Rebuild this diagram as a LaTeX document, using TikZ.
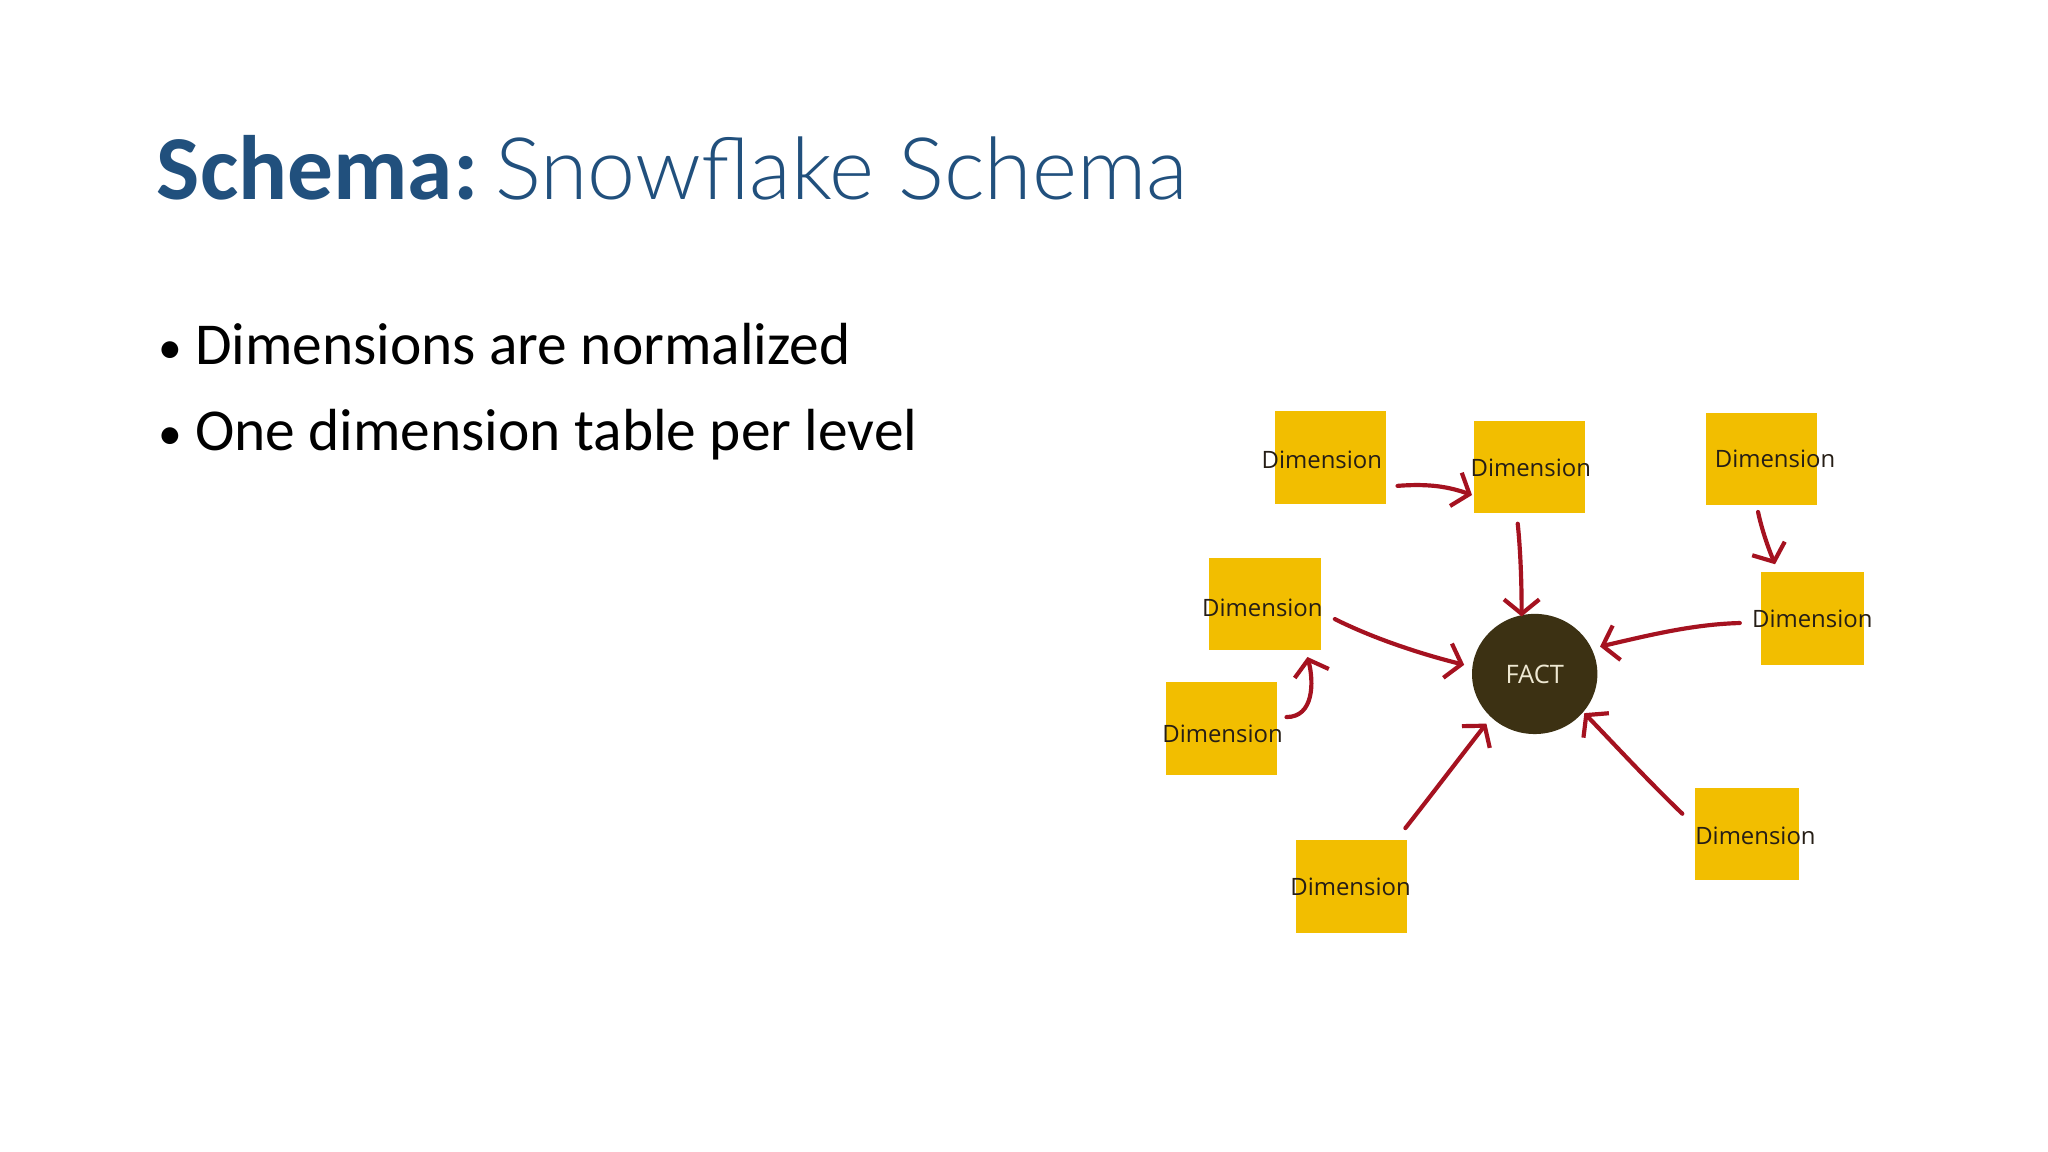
\documentclass[tikz,border=0pt]{standalone}
\usepackage{fontspec}
\setmainfont{Carlito}
\newfontfamily\boxfont{Open Sans}
\newfontfamily\lightfont{Lato-Light}
\usetikzlibrary{arrows.meta,shapes.geometric}
\definecolor{titleblue}{RGB}{33,80,125}
\definecolor{dimyellow}{RGB}{242,190,0}
\definecolor{arrred}{RGB}{165,18,32}
\definecolor{factfill}{RGB}{60,49,19}
\definecolor{facttext}{RGB}{238,232,210}
\definecolor{dimtext}{RGB}{38,30,22}
\tikzset{
  dimbox/.style={rectangle, fill=dimyellow, draw=none, minimum width=85pt, minimum height=71pt, inner sep=0pt},
  dimtxt/.style={font=\boxfont\fontsize{18.3}{21}\selectfont, text=dimtext, inner sep=0pt},
  arr/.style={draw=arrred, line width=3.2pt, line cap=round, line join=round,
     -{Straight Barb[length=11pt,width=27pt,line width=3.2pt]}},
  txt/.style={anchor=base west, inner sep=0pt},
  bul/.style={txt, font=\fontsize{45.5}{54}\selectfont}
}
\newcommand{\mybullet}{\raisebox{1pt}{\scalebox{0.8}{•}}\hspace{10pt}}
\begin{document}
\begin{tikzpicture}[x=1pt,y=-1pt]
\useasboundingbox[fill=white] (0,0) rectangle (1568,882);
% title
\node[txt, text=titleblue, font=\fontsize{70}{84}\selectfont] (title) at (120,153)
  {\textbf{Schema:}\hspace{-8pt} {\lightfont\fontsize{66}{78}\selectfont Snowflake Schema}};
% bullets
\node[bul] (b1) at (121,279) {\mybullet Dimensions are normalized};
\node[bul] (b2) at (121,345) {\mybullet One dimension table per level};
% dimension boxes
\node[dimbox, label={[dimtxt, xshift=-6.5pt, yshift=-1.5pt]center:Dimension}] (d1) at (1018.5,350.5) {};
\node[dimbox, label={[dimtxt, xshift=1pt, yshift=-0.5pt]center:Dimension}] (d2) at (1171,357.5) {};
\node[dimbox, label={[dimtxt, xshift=10.5pt]center:Dimension}] (d3) at (1348.5,351.5) {};
\node[dimbox, minimum width=79pt, label={[dimtxt, xshift=0pt, yshift=-0.5pt]center:Dimension}] (d4) at (1387.5,473.5) {};
\node[dimbox, label={[dimtxt, xshift=-2pt, yshift=-2.5pt]center:Dimension}] (d5) at (968.5,462.5) {};
\node[dimbox, label={[dimtxt, xshift=1pt, yshift=-4.5pt]center:Dimension}] (d6) at (935,557.5) {};
\node[dimbox, label={[dimtxt, xshift=-1pt, yshift=-0.5pt]center:Dimension}] (d7) at (1035,678.5) {};
\node[dimbox, minimum width=79pt, label={[dimtxt, xshift=6.5pt, yshift=-1.5pt]center:Dimension}] (d8) at (1337.5,638.5) {};
% fact
\node[ellipse, fill=factfill, minimum width=96pt, minimum height=92pt, inner sep=0pt,
      font=\boxfont\fontsize{19.5}{22}\selectfont, text=facttext] (fact) at (1175,516) {FACT};
% connector ends
\coordinate (a1s) at (1070,372);  \coordinate (a1e) at (1127,379);
\coordinate (a2s) at (1162,401);  \coordinate (a2e) at (1165,472);
\coordinate (a3s) at (1346,392);  \coordinate (a3e) at (1359,432);
\coordinate (a4s) at (1332,477);  \coordinate (a4e) at (1225,495);
\coordinate (a5s) at (1022,474);  \coordinate (a5e) at (1121,509);
\coordinate (a6s) at (985,549);   \coordinate (a6e) at (1001,503);
\coordinate (a7s) at (1076,634);  \coordinate (a7e) at (1138,554);
\coordinate (a8s) at (1288,623);  \coordinate (a8e) at (1213,546);
% connectors
\draw[arr] (a1s) .. controls (1095,370) and (1110,373) .. (a1e);
\draw[arr] (a2s) .. controls (1164,420) and (1165,445) .. (a2e);
\draw[arr] (a3s) .. controls (1349,406) and (1354,420) .. (a3e);
\draw[arr] (a4s) .. controls (1295,478) and (1260,487) .. (a4e);
\draw[arr] (a5s) .. controls (1050,488) and (1085,500) .. (a5e);
\draw[arr] (a6s) .. controls (1006,549) and (1006,522) .. (a6e);
\draw[arr] (a7s) .. controls (1098,606) and (1120,577) .. (a7e);
\draw[arr] (a8s) .. controls (1262,598) and (1238,572) .. (a8e);
\end{tikzpicture}
\end{document}
